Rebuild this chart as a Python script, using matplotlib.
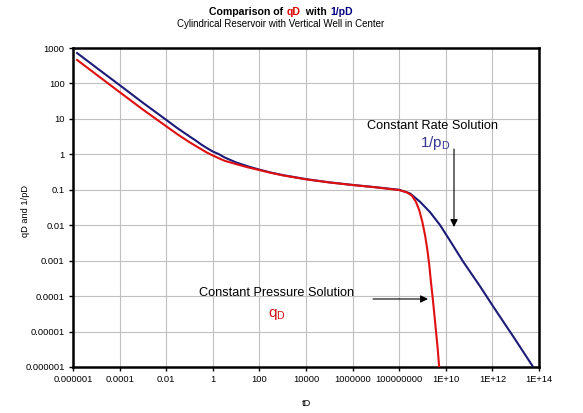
"""Comparison of qD with 1/pD - cylindrical reservoir, vertical well in center."""
import matplotlib
matplotlib.use('Agg')
import matplotlib.pyplot as plt

plt.rcParams['font.family'] = ['Liberation Sans', 'DejaVu Sans']
plt.rcParams['mathtext.fontset'] = 'custom'
plt.rcParams['mathtext.rm'] = 'Liberation Sans'

# constant rate solution, 1/pD vs tD
td_rate = [1.5e-6, 1e-5, 1e-4, 1e-3, 1e-2, 0.03, 0.1, 0.178, 0.316, 0.56, 1,
           1.78, 3.16, 10, 31.6, 100, 316, 1e3, 1e4, 1e5, 1e6, 1e7, 1e8,
           2.9e8, 7.8e8, 2.1e9, 5.6e9, 1.5e10, 5.6e10, 3e11, 1.1e12, 7.9e12,
           4.9e13, 6.5e13]
inv_pd = [720, 280, 90, 28.5, 9.4, 5.5, 3.2, 2.5, 1.9, 1.5, 1.2,
          1.02, 0.82, 0.59, 0.46, 0.37, 0.305, 0.26, 0.2, 0.162, 0.137, 0.118, 0.1,
          0.079, 0.046, 0.0234, 0.0102, 0.0037, 0.00093, 0.000186, 5.0e-5, 7.2e-6,
          1.15e-6, 8.5e-7]

# constant pressure solution, qD vs tD
td_press = [1.5e-6, 1e-5, 1e-4, 1e-3, 1e-2, 0.03, 0.1, 0.178, 0.316, 0.56, 1,
            1.78, 3.16, 10, 31.6, 100, 316, 1e3, 1e4, 1e5, 1e6, 1e7, 1e8,
            2.1e8, 3.5e8, 5.2e8, 7.2e8, 9.8e8, 1.29e9, 1.62e9, 1.95e9, 2.29e9,
            2.75e9, 3.24e9, 3.8e9, 4.47e9, 5.25e9, 5.6e9]
qd = [460, 179, 57, 18.3, 6.2, 3.7, 2.2, 1.75, 1.4, 1.12, 0.93,
      0.78, 0.66, 0.53, 0.43, 0.36, 0.3, 0.255, 0.197, 0.161, 0.136, 0.117, 0.098,
      0.085, 0.068, 0.046, 0.027, 0.0126, 0.0052, 0.002, 7.6e-4, 2.6e-4,
      8.7e-5, 2.95e-5, 1e-5, 3.4e-6, 9.1e-7, 5e-7]

x_ticks = [1e-6, 1e-4, 1e-2, 1, 1e2, 1e4, 1e6, 1e8, 1e10, 1e12, 1e14]
x_labels = ['0.000001', '0.0001', '0.01', '1', '100', '10000', '1000000',
            '100000000', '1E+10', '1E+12', '1E+14']
y_ticks = [1e-6, 1e-5, 1e-4, 1e-3, 1e-2, 1e-1, 1, 10, 100, 1000]
y_labels = ['0.000001', '0.00001', '0.0001', '0.001', '0.01', '0.1', '1',
            '10', '100', '1000']

BLUE = '#1c1c78'
RED = '#e01010'

W, H = 583, 413
fig = plt.figure(figsize=(W / 100, H / 100), dpi=100)
ax = fig.add_axes([73 / W, (H - 367) / H, 466 / W, 319 / H])

ax.plot(td_rate, inv_pd, color=BLUE, lw=1.5, zorder=3)
ax.plot(td_press, qd, color=RED, lw=1.5, zorder=3)

ax.set_xscale('log')
ax.set_yscale('log')
ax.set_xlim(1e-6, 1e14)
ax.set_ylim(1e-6, 1000)
ax.set_xticks(x_ticks)
ax.set_xticklabels(x_labels)
ax.set_yticks(y_ticks)
ax.set_yticklabels(y_labels)
ax.minorticks_off()
ax.tick_params(labelsize=6.7, length=3, width=1, pad=3, color='black')
ax.grid(True, color='#c0c0c0', lw=0.8)
ax.set_axisbelow(True)
for sp in ax.spines.values():
    sp.set_linewidth(1.8)
    sp.set_color('black')

fig.text(25 / W, 1 - 211 / H, 'qD and 1/pD', rotation=90, fontsize=6.7,
         ha='center', va='center')
fig.text(306 / W, 1 - 404 / H, 'tD', fontsize=6.7, ha='center', va='center')

# annotations
ax.text(0.7725, 0.7555, 'Constant Rate Solution', transform=ax.transAxes,
        fontsize=9.2, ha='center', va='center')
ax.text(0.777, 0.702, r'1/p$_\mathregular{D}$', transform=ax.transAxes,
        fontsize=11, color='#35358f', ha='center', va='center')
ax.annotate('', xy=(0.8176, 0.4389), xytext=(0.8176, 0.6834),
            xycoords='axes fraction', textcoords='axes fraction',
            arrowprops=dict(arrowstyle='-|>', color='black', lw=0.8,
                            mutation_scale=11, shrinkA=0, shrinkB=0))
ax.text(0.4378, 0.232, 'Constant Pressure Solution', transform=ax.transAxes,
        fontsize=9.2, ha='center', va='center')
ax.text(0.4378, 0.166, r'q$_\mathregular{D}$', transform=ax.transAxes,
        fontsize=11, color='#d01010', ha='center', va='center')
ax.annotate('', xy=(0.7618, 0.2132), xytext=(0.6438, 0.2132),
            xycoords='axes fraction', textcoords='axes fraction',
            arrowprops=dict(arrowstyle='-|>', color='black', lw=0.8,
                            mutation_scale=11, shrinkA=0, shrinkB=0))

# title with coloured words
parts = [('Comparison of ', 'black'), ('qD', '#e00000'), ('  with ', 'black'),
         ('1/pD', '#000080')]
fig.canvas.draw()
r = fig.canvas.get_renderer()
texts = [fig.text(0, 1 - 12 / H, s, color=c, fontsize=7.6, fontweight='bold',
                  ha='left', va='center') for s, c in parts]
widths = [t.get_window_extent(r).width for t in texts]
x0 = 281 - sum(widths) / 2
for t, w in zip(texts, widths):
    t.set_x(x0 / W)
    x0 += w
fig.text(281 / W, 1 - 24 / H, 'Cylindrical Reservoir with Vertical Well in Center',
         fontsize=7, ha='center', va='center')

fig.savefig('out.png', dpi=100)
